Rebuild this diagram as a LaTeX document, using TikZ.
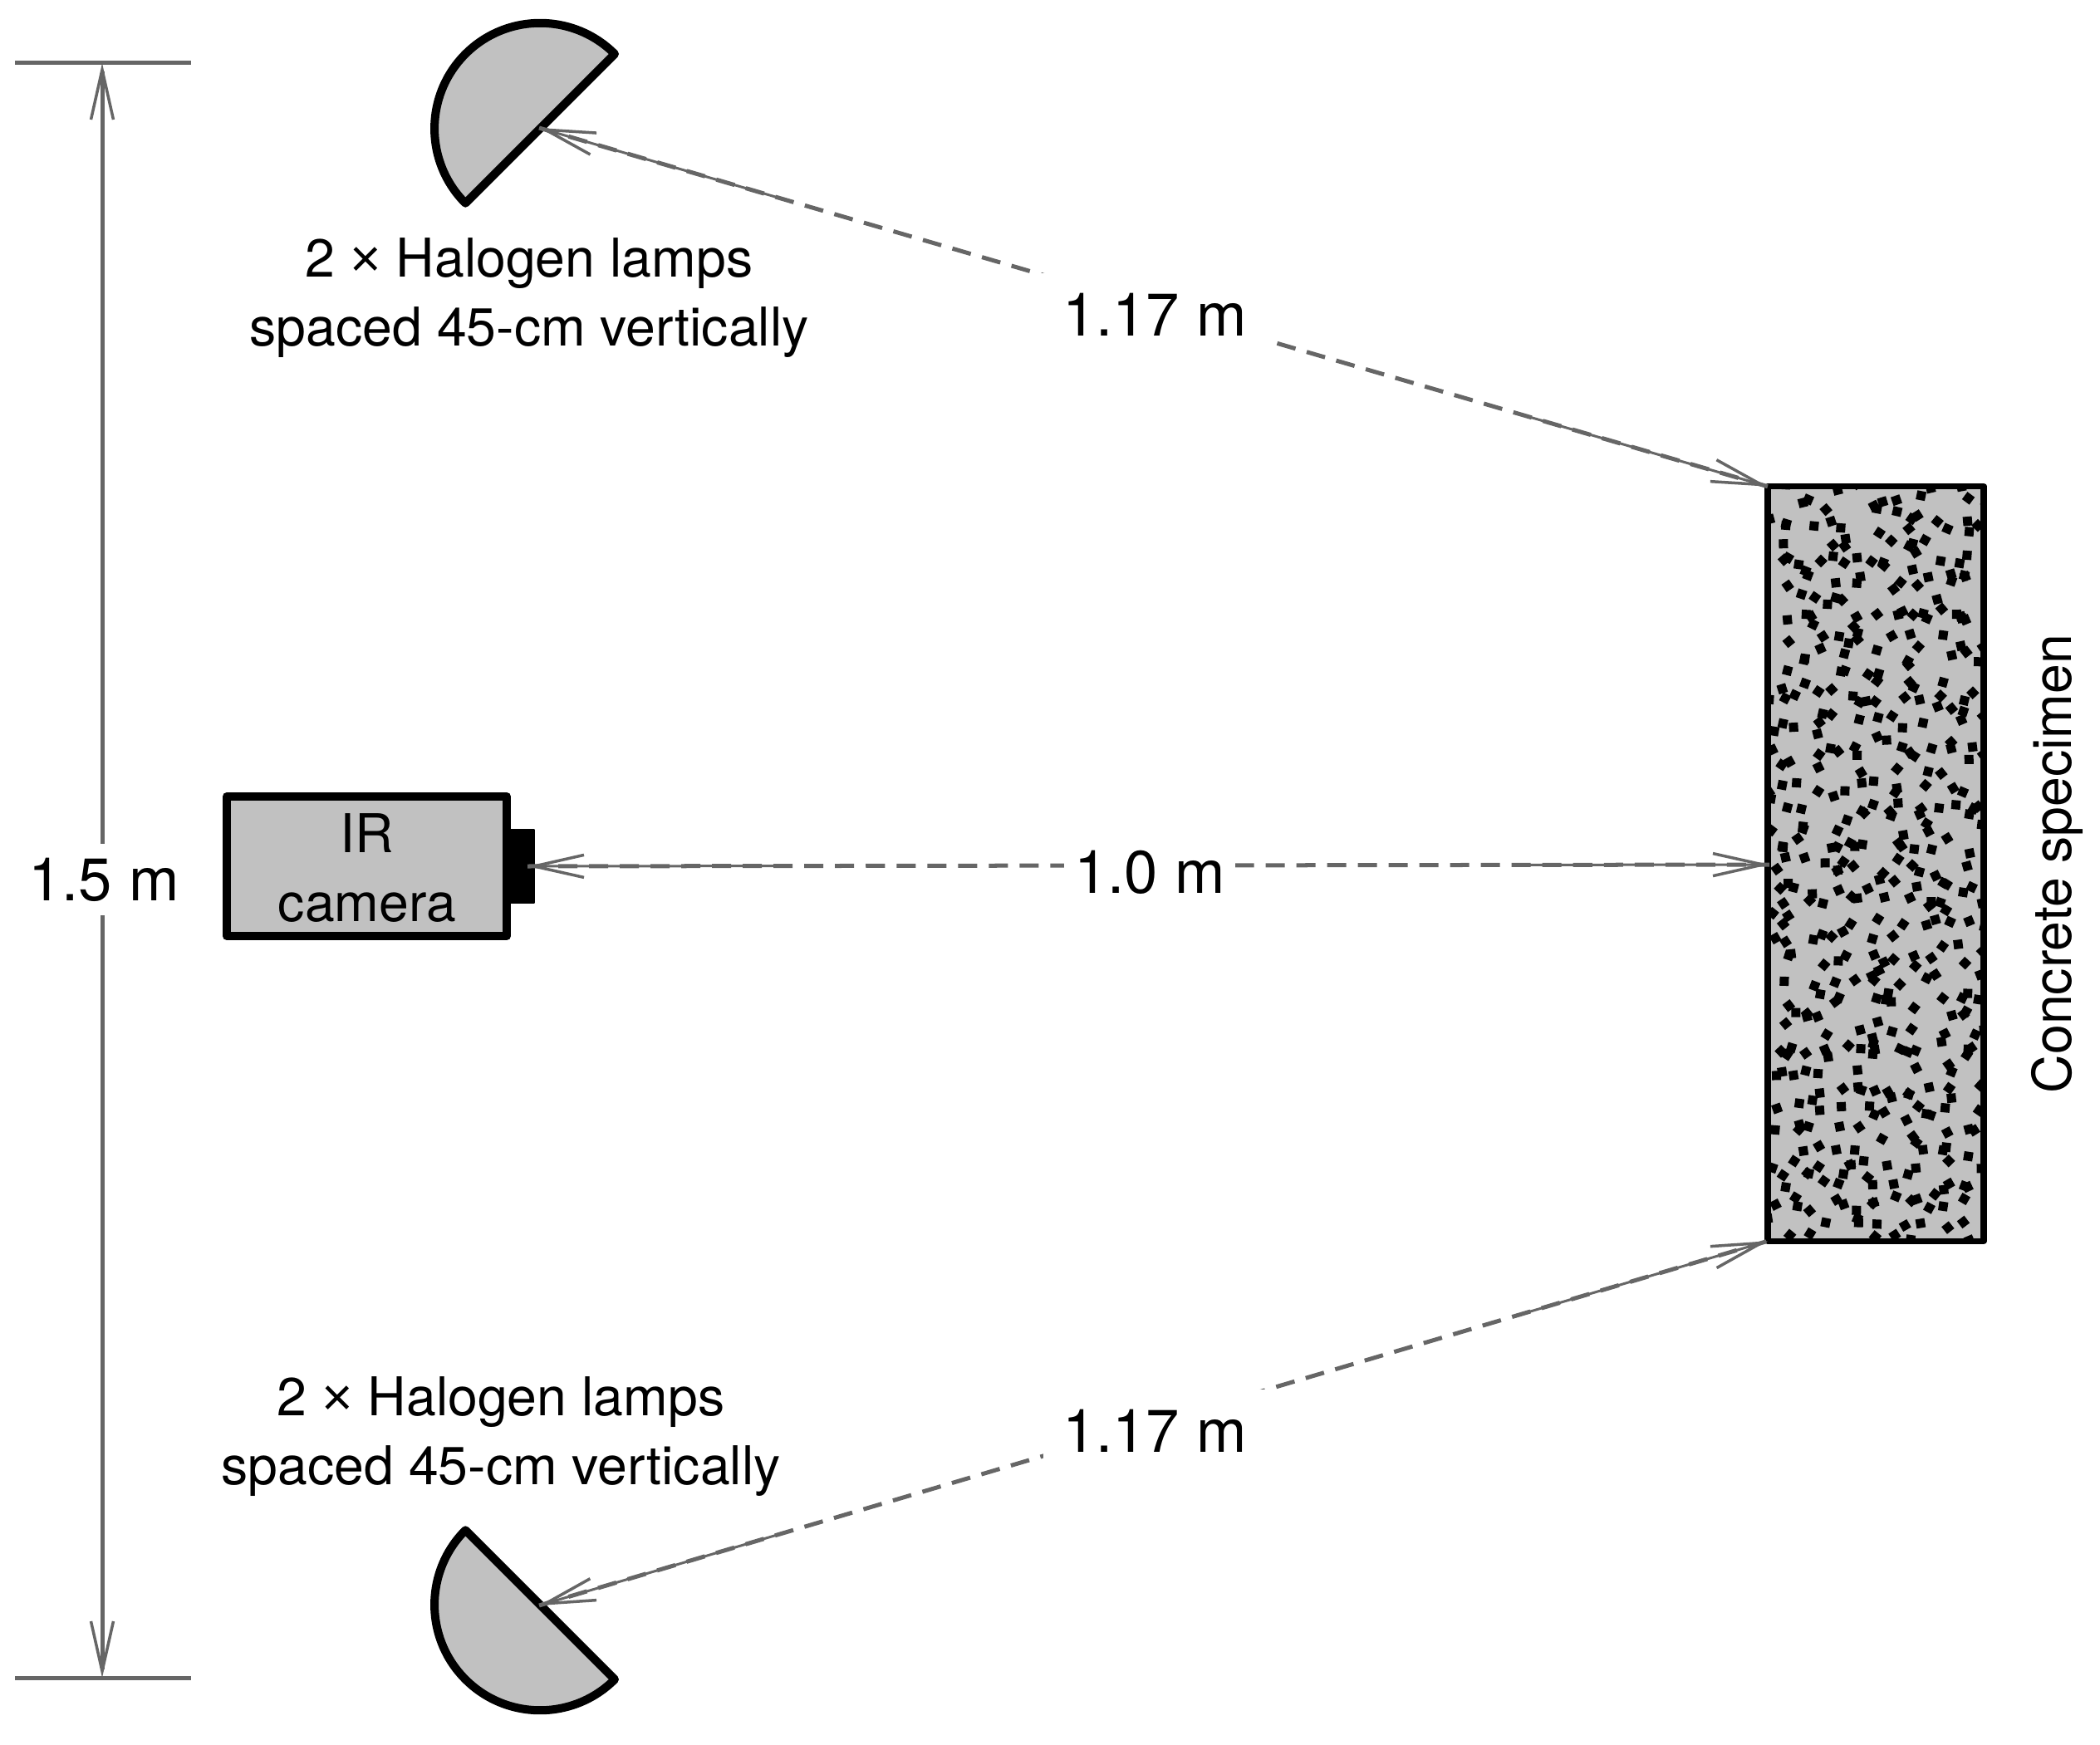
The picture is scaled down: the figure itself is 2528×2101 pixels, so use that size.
\documentclass[tikz,border=0pt]{standalone}
\usepackage{fontspec}
\setmainfont{TeX Gyre Heros}
\newfontfamily\signfont{Liberation Sans}
\usetikzlibrary{positioning,calc,arrows.meta}
\definecolor{fillGrey}{RGB}{193, 193, 193}
\definecolor{dimGrey}{RGB}{102, 102, 102}
\tikzset{myOutline/.style={draw=black,fill=fillGrey,line width=0.1cm,line join=round}}
\tikzset{myBarb/.tip={Straight Barb[length=0.6cm,width=0.27cm,line width=0.035cm]}}
\tikzset{myDim/.style={color=dimGrey,line width=0.05cm,{myBarb}-{myBarb}}}
\tikzset{myDash/.style={color=dimGrey,line width=0.05cm,dash pattern=on 0.23cm off 0.14cm}}
\tikzset{myStub/.style={color=dimGrey,line width=0.03cm}}
\tikzset{myText/.style={inner sep=0pt,outer sep=0pt,align=center,font=\fontsize{18.3}{23.6}\selectfont}}
\tikzset{myLabel/.style={fill=white,inner sep=0pt,outer sep=0pt,minimum height=0.85cm,font=\fontsize{20.6}{24}\selectfont}}

\begin{document}
\begin{tikzpicture}[x=0.01cm,y=-0.01cm]
	\useasboundingbox (0,0) rectangle (2528,2101);

	% specimen
	\node[fill=fillGrey,inner sep=0pt,outer sep=0pt,minimum width=2.6cm,minimum height=9.08cm] (specimen) at (2258,1040) {};
	\begin{scope}
		\clip (specimen.south west) rectangle (specimen.north east);
		\pgfmathsetseed{4711}
		\foreach \i in {0,...,11}{
			\foreach \j in {0,...,39}{
				\pgfmathsetmacro{\px}{2128+(\i+0.5)*21.7+34*(rnd-0.5)}
				\pgfmathsetmacro{\py}{586+(\j+0.5)*22.7+34*(rnd-0.5)}
				\pgfmathsetmacro{\ang}{90*rnd}
				\fill[black,shift={(\px,\py)},rotate=\ang] (-5.5,-5.5) rectangle (5.5,5.5);
			}
		}
	\end{scope}
	\draw[myOutline,fill=none,line width=0.075cm] (specimen.south west) rectangle (specimen.north east);
	\node[myText,rotate=90] (specimenText) at (2476,1040) {Concrete specimen};

	% lamps
	\coordinate (lampTopA) at (740,65);
	\coordinate (lampTopMid) at (649,154);
	\draw[myOutline] (lampTopA) arc[start angle=45,end angle=225,radius=1.27cm] -- cycle;
	\coordinate (lampLowA) at (740,2022);
	\coordinate (lampLowMid) at (649,1933);
	\draw[myOutline] (lampLowA) arc[start angle=-45,end angle=-225,radius=1.27cm] -- cycle;
	\node[myText] (lampTopText) at (637,359) {2 {\signfont ×} Halogen lamps\\spaced 45-cm vertically};
	\node[myText] (lampLowText) at (603,1730) {2 {\signfont ×} Halogen lamps\\spaced 45-cm vertically};

	% camera
	\node[myOutline,inner sep=0pt,outer sep=0pt,minimum width=3.37cm,minimum height=1.68cm] (camBody) at (441.5,1043) {};
	\node[draw=black,fill=black,line join=round,line width=0.02cm,inner sep=0pt,outer sep=0pt,minimum width=0.28cm,minimum height=0.88cm,right=0.05cm of camBody] (camLens) {};
	\node[myText] (camText) at (442,1045) {IR\\camera};

	% dimension lines
	\coordinate (barTopA) at (18,76);
	\coordinate (barTopB) at (230,76);
	\coordinate (barLowA) at (18,2020);
	\coordinate (barLowB) at (230,2020);
	\coordinate (dimTop) at (123,76);
	\coordinate (dimLow) at (123,2020);
	\draw[myDim,-] (barTopA) -- (barTopB);
	\draw[myDim,-] (barLowA) -- (barLowB);
	\draw[myDim] (dimTop) -- (dimLow);
	\node[myLabel,minimum width=1.95cm] (dimText) at (125,1059) {1.5 m};

	\coordinate (camTip) at (635,1043);
	\coordinate (specTip) at (2130,1041);
	\draw[myDash] (lampTopMid) -- (specimen.north west);
	\draw[myDash] (lampLowMid) -- (specimen.south west);
	\draw[myDash] (camTip) -- (specTip);
	\foreach \a/\b in {lampTopMid/specimen.north west,lampLowMid/specimen.south west,camTip/specTip}{
		\draw[myStub,{myBarb}-] (\a) -- ($(\a)!0.2!(\b)$);
		\draw[myStub,-{myBarb}] ($(\b)!0.2!(\a)$) -- (\b);
	}
	\node[myLabel,minimum width=2.75cm,minimum height=1cm] (topText) at (1390,379) {1.17 m};
	\node[myLabel,minimum width=2.05cm] (midText) at (1384,1050) {1.0 m};
	\node[myLabel,minimum width=2.68cm,minimum height=1cm] (lowText) at (1390,1723) {1.17 m};
\end{tikzpicture}
\end{document}
